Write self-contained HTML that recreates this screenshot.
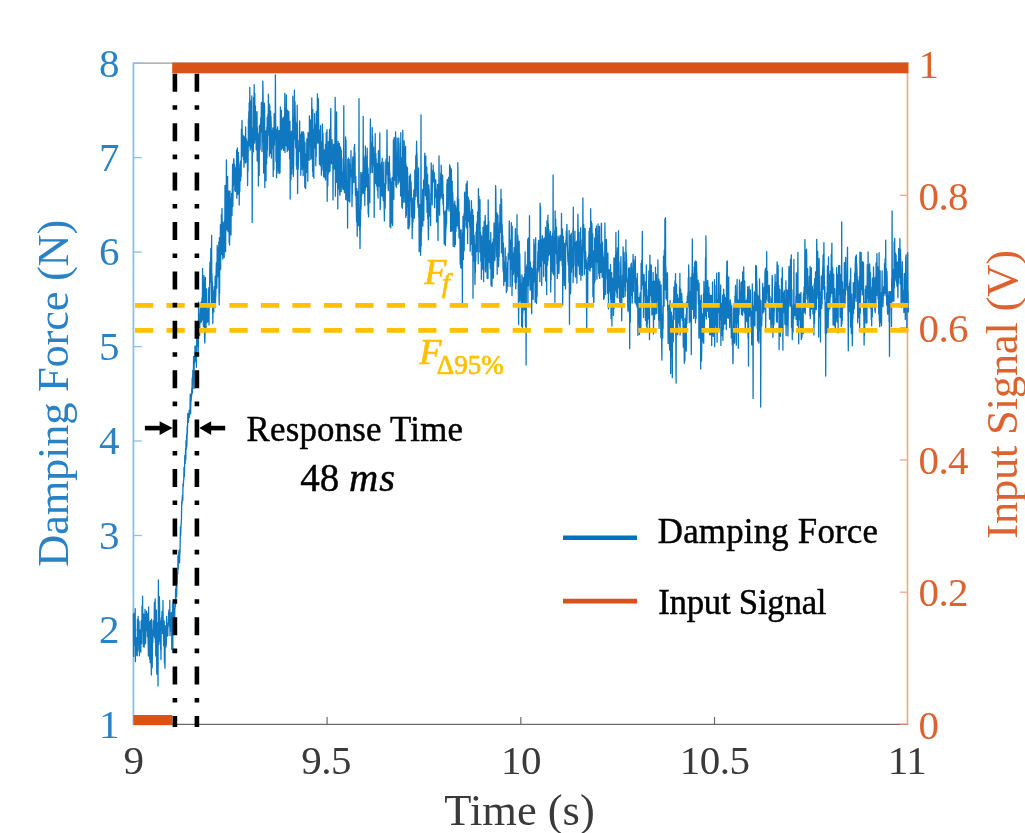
<!DOCTYPE html>
<html>
<head>
<meta charset="utf-8">
<title>Damping Force Response Time</title>
<style>
  html, body { margin: 0; padding: 0; background: #ffffff; }
  body { width: 1025px; height: 833px; overflow: hidden; }
  svg { display: block; filter: blur(0.45px); }
  text { font-family: "Liberation Serif", "Times New Roman", serif; }
  .tick { font-size: 41px; }
  .lab { font-size: 44.5px; }
  .ann { font-size: 34.8px; }
  .blue { fill: #2a82c4; }
  .org { fill: #dc6330; }
  .gray { fill: #3a3a3a; }
  .yel { fill: #ffc000; stroke: #ffc000; stroke-width: 0.7px; }
  .blk { fill: #000; stroke: #000; stroke-width: 0.45px; }
</style>
</head>
<body>
<svg width="1025" height="833" viewBox="0 0 1025 833">
  <rect x="0" y="0" width="1025" height="833" fill="#ffffff"/>

  <!-- axes box -->
  <g fill="none" stroke-width="1.3">
    <line x1="133.4" y1="63.2" x2="908.3" y2="63.2" stroke="#9a9a9a"/>
    <line x1="133.4" y1="724.4" x2="908.3" y2="724.4" stroke="#6b6b6b"/>
    <line x1="133.4" y1="62.6" x2="133.4" y2="725" stroke="#8fbfe3" stroke-width="1.8"/>
    <line x1="907.5" y1="62.6" x2="907.5" y2="725" stroke="#eba88b" stroke-width="1.6"/>
  </g>
  <!-- x ticks -->
  <g stroke="#6b6b6b" stroke-width="1.2">
    <line x1="327.1" y1="717" x2="327.1" y2="724.4"/>
    <line x1="520.8" y1="717" x2="520.8" y2="724.4"/>
    <line x1="714.5" y1="717" x2="714.5" y2="724.4"/>
  </g>
  <!-- left ticks -->
  <g stroke="#8fbfe3" stroke-width="1.3">
    <line x1="133.4" y1="63.2" x2="141.8" y2="63.2"/>
    <line x1="133.4" y1="157.6" x2="141.8" y2="157.6"/>
    <line x1="133.4" y1="252.1" x2="141.8" y2="252.1"/>
    <line x1="133.4" y1="346.6" x2="141.8" y2="346.6"/>
    <line x1="133.4" y1="441" x2="141.8" y2="441"/>
    <line x1="133.4" y1="535.5" x2="141.8" y2="535.5"/>
    <line x1="133.4" y1="629.9" x2="141.8" y2="629.9"/>
  </g>
  <!-- right ticks -->
  <g stroke="#eba88b" stroke-width="1.3">
    <line x1="899.8" y1="195.4" x2="908" y2="195.4"/>
    <line x1="899.8" y1="327.7" x2="908" y2="327.7"/>
    <line x1="899.8" y1="459.9" x2="908" y2="459.9"/>
    <line x1="899.8" y1="592.2" x2="908" y2="592.2"/>
    <line x1="899.8" y1="724.4" x2="908" y2="724.4" stroke="#d98a66"/>
  </g>

  <!-- damping force curve -->
  <path fill="none" stroke="#0f78c0" stroke-width="1.3" stroke-linejoin="round" d="M133.4,614.0 133.6,656.4 133.8,636.4 134.0,613.2 134.2,618.5 134.4,617.9 134.6,636.9 134.8,630.7 135.0,645.2 135.2,608.6 135.4,661.7 135.6,638.9 135.8,651.9 136.0,640.8 136.2,637.6 136.4,650.4 136.6,655.1 136.8,640.2 137.0,642.0 137.2,655.8 137.4,619.4 137.6,622.5 137.8,650.9 138.0,634.5 138.2,616.5 138.4,632.7 138.6,637.2 138.8,626.0 139.0,621.3 139.2,643.5 139.4,655.8 139.6,637.6 139.8,630.2 140.0,646.8 140.2,651.7 140.4,636.1 140.6,646.4 140.8,652.2 141.0,631.6 141.2,620.8 141.4,636.8 141.6,633.6 141.8,643.7 142.0,606.2 142.2,614.9 142.4,610.1 142.6,596.1 142.8,623.7 143.0,630.8 143.2,613.6 143.4,646.5 143.6,640.2 143.8,639.0 144.0,637.9 144.2,647.0 144.4,614.4 144.6,643.7 144.8,644.4 145.0,609.5 145.2,640.4 145.4,630.5 145.6,643.1 145.8,623.1 146.0,627.1 146.2,630.3 146.4,611.1 146.6,630.7 146.8,619.3 147.0,628.4 147.2,613.1 147.4,636.7 147.6,629.2 147.8,619.5 148.0,633.7 148.2,645.8 148.4,655.9 148.6,606.9 148.8,645.6 149.0,640.5 149.2,635.5 149.4,624.0 149.6,659.0 149.8,621.9 150.0,650.1 150.2,662.7 150.4,620.6 150.6,640.0 150.8,625.1 151.0,648.3 151.2,667.2 151.4,674.9 151.6,619.4 151.8,636.8 152.0,655.5 152.2,667.7 152.4,649.1 152.6,630.1 152.8,642.6 153.0,635.5 153.2,630.4 153.4,621.0 153.6,636.0 153.8,632.7 154.0,623.7 154.2,619.3 154.4,602.3 154.6,613.0 154.8,638.0 155.0,616.3 155.2,598.9 155.4,642.3 155.6,631.5 155.8,656.1 156.0,628.0 156.2,622.5 156.4,610.2 156.6,653.5 156.8,674.1 157.0,623.8 157.2,626.1 157.4,643.7 157.6,622.7 157.8,630.2 158.0,686.0 158.2,635.2 158.4,580.0 158.6,631.8 158.8,644.3 159.0,623.2 159.2,633.4 159.4,596.6 159.6,605.9 159.8,641.1 160.0,620.5 160.2,638.7 160.4,637.8 160.6,649.8 160.8,642.0 161.0,659.5 161.2,626.3 161.4,617.7 161.6,617.2 161.8,621.0 162.0,611.3 162.2,621.2 162.4,627.8 162.6,633.5 162.8,623.9 163.0,600.4 163.2,629.1 163.4,633.0 163.6,645.7 163.8,639.3 164.0,621.1 164.2,621.0 164.4,663.0 164.6,645.2 164.8,662.5 165.0,668.2 165.2,625.7 165.4,644.8 165.6,645.8 165.8,647.0 166.0,646.7 166.2,641.7 166.4,644.0 166.6,616.5 166.8,634.8 167.0,623.9 167.2,634.9 167.4,623.3 167.6,636.0 167.8,635.6 168.0,626.3 168.2,624.9 168.4,621.3 168.6,612.1 168.8,613.2 169.0,609.8 169.2,623.9 169.4,618.2 169.6,627.0 169.8,600.5 170.0,635.7 170.2,613.5 170.4,616.1 170.6,624.9 170.8,619.2 171.0,631.1 171.2,618.6 171.4,612.5 171.6,617.5 171.8,649.4 172.0,631.6 172.2,612.4 172.4,628.4 172.6,604.3 172.8,652.3 173.0,602.0 173.2,631.7 173.4,631.1 173.6,599.6 173.8,624.7 174.0,633.0 174.2,630.4 174.4,617.4 174.6,624.1 174.8,609.6 175.0,608.3 175.2,603.5 175.4,606.3 175.6,588.8 175.8,602.3 176.0,591.7 176.2,585.8 176.4,591.7 176.6,596.9 176.8,589.4 177.0,577.9 177.2,583.3 177.4,573.7 177.6,573.8 177.8,573.3 178.0,555.7 178.2,569.2 178.4,559.6 178.6,559.4 178.8,552.8 179.0,550.5 179.2,551.8 179.4,560.5 179.6,562.9 179.8,549.4 180.0,553.2 180.2,541.5 180.4,526.9 180.6,535.6 180.8,533.3 181.0,524.0 181.2,524.1 181.4,521.5 181.6,508.9 181.8,500.8 182.0,504.1 182.2,500.1 182.4,495.4 182.6,499.7 182.8,500.4 183.0,483.7 183.2,486.8 183.4,484.6 183.6,480.1 183.8,479.5 184.0,467.2 184.2,471.4 184.4,476.4 184.6,466.5 184.8,455.4 185.0,461.4 185.2,463.6 185.4,456.5 185.6,448.5 185.8,459.4 186.0,440.7 186.2,449.2 186.4,444.1 186.6,434.7 186.8,446.8 187.0,438.5 187.2,426.0 187.4,433.7 187.6,424.7 187.8,413.3 188.0,418.2 188.2,421.9 188.4,422.4 188.6,417.9 188.8,415.3 189.0,416.2 189.2,410.1 189.4,417.4 189.6,410.2 189.8,410.6 190.0,411.3 190.2,394.1 190.4,401.2 190.6,413.8 190.8,404.6 191.0,398.5 191.2,400.5 191.4,393.7 191.6,396.3 191.8,388.1 192.0,391.8 192.2,378.1 192.4,393.2 192.6,379.4 192.8,370.5 193.0,376.1 193.2,372.4 193.4,373.4 193.6,356.5 193.8,370.9 194.0,388.6 194.2,356.7 194.4,364.0 194.6,358.4 194.8,359.9 195.0,345.9 195.2,348.3 195.4,357.0 195.6,352.8 195.8,361.7 196.0,346.2 196.2,350.1 196.4,367.3 196.6,341.1 196.8,338.3 197.0,342.3 197.2,340.7 197.4,346.0 197.6,338.6 197.8,329.7 198.0,335.4 198.2,354.3 198.4,340.3 198.6,302.2 198.8,324.1 199.0,314.1 199.2,325.5 199.4,315.0 199.6,335.6 199.8,324.5 200.0,322.2 200.2,312.9 200.4,308.3 200.6,311.9 200.8,322.3 201.0,312.3 201.2,301.8 201.4,322.0 201.6,309.9 201.8,307.8 202.0,297.9 202.2,299.9 202.4,297.7 202.6,268.4 202.8,320.2 203.0,315.7 203.2,305.8 203.4,326.7 203.6,318.8 203.8,318.4 204.0,275.7 204.2,309.9 204.4,320.5 204.6,339.0 204.8,342.9 205.0,337.6 205.2,295.7 205.4,277.5 205.6,325.0 205.8,315.7 206.0,332.0 206.2,313.1 206.4,319.0 206.6,288.9 206.8,322.3 207.0,307.4 207.2,321.0 207.4,322.0 207.6,311.1 207.8,317.5 208.0,310.3 208.2,321.7 208.4,313.7 208.6,293.1 208.8,287.7 209.0,324.9 209.2,288.2 209.4,303.0 209.6,288.4 209.8,267.7 210.0,262.0 210.2,275.3 210.4,276.9 210.6,282.0 210.8,248.5 211.0,261.5 211.2,270.6 211.4,303.4 211.6,235.3 211.8,287.9 212.0,274.0 212.2,294.4 212.4,281.8 212.6,300.6 212.8,323.6 213.0,304.9 213.2,308.3 213.4,309.4 213.6,290.7 213.8,312.1 214.0,297.0 214.2,286.6 214.4,297.6 214.6,291.5 214.8,304.8 215.0,287.0 215.2,276.1 215.4,307.6 215.6,295.1 215.8,296.8 216.0,282.9 216.2,268.6 216.4,262.7 216.6,265.8 216.8,288.0 217.0,274.1 217.2,245.5 217.4,272.4 217.6,248.0 217.8,276.6 218.0,252.6 218.2,251.5 218.4,275.6 218.6,271.5 218.8,241.9 219.0,295.8 219.2,304.9 219.4,237.7 219.6,293.6 219.8,247.5 220.0,248.3 220.2,250.2 220.4,224.7 220.6,269.7 220.8,252.3 221.0,229.8 221.2,237.1 221.4,214.4 221.6,233.4 221.8,254.3 222.0,208.5 222.2,229.9 222.4,238.6 222.6,253.6 222.8,259.0 223.0,228.2 223.2,222.1 223.4,242.7 223.6,227.1 223.8,226.0 224.0,248.8 224.2,257.6 224.4,230.3 224.6,220.7 224.8,231.0 225.0,185.5 225.2,216.2 225.4,194.5 225.6,251.8 225.8,222.7 226.0,209.5 226.2,202.0 226.4,159.8 226.6,215.3 226.8,229.8 227.0,188.3 227.2,213.0 227.4,214.8 227.6,176.3 227.8,220.7 228.0,231.5 228.2,215.3 228.4,211.3 228.6,229.7 228.8,191.0 229.0,223.2 229.2,242.7 229.4,204.8 229.6,245.0 229.8,220.8 230.0,191.2 230.2,223.5 230.4,207.8 230.6,227.5 230.8,198.5 231.0,235.1 231.2,199.9 231.4,214.9 231.6,193.3 231.8,193.5 232.0,215.5 232.2,195.1 232.4,182.6 232.6,164.2 232.8,206.5 233.0,197.2 233.2,177.6 233.4,185.7 233.6,160.4 233.8,158.6 234.0,161.8 234.2,181.8 234.4,182.3 234.6,164.6 234.8,190.5 235.0,190.4 235.2,177.4 235.4,191.7 235.6,167.8 235.8,169.6 236.0,179.9 236.2,171.7 236.4,185.5 236.6,150.2 236.8,198.2 237.0,159.1 237.2,169.5 237.4,147.8 237.6,181.3 237.8,194.3 238.0,192.5 238.2,191.1 238.4,152.3 238.6,168.4 238.8,175.0 239.0,169.1 239.2,205.1 239.4,186.6 239.6,183.2 239.8,191.4 240.0,164.1 240.2,164.3 240.4,161.2 240.6,180.7 240.8,172.8 241.0,172.5 241.2,176.4 241.4,129.2 241.6,138.6 241.8,148.9 242.0,120.4 242.2,132.0 242.4,156.0 242.6,156.0 242.8,155.5 243.0,138.6 243.2,135.7 243.4,159.5 243.6,135.8 243.8,148.4 244.0,167.2 244.2,139.9 244.4,136.9 244.6,149.2 244.8,160.8 245.0,159.2 245.2,155.7 245.4,163.0 245.6,127.0 245.8,141.9 246.0,162.3 246.2,144.6 246.4,138.9 246.6,141.6 246.8,146.3 247.0,158.5 247.2,141.7 247.4,162.1 247.6,185.5 247.8,150.2 248.0,171.3 248.2,149.0 248.4,119.0 248.6,128.7 248.8,111.7 249.0,138.5 249.2,102.7 249.4,145.9 249.6,132.1 249.8,87.4 250.0,135.8 250.2,150.3 250.4,111.7 250.6,145.9 250.8,100.8 251.0,139.6 251.2,109.3 251.4,148.3 251.6,109.7 251.8,95.8 252.0,149.6 252.2,222.4 252.4,130.4 252.6,153.3 252.8,138.2 253.0,127.8 253.2,139.7 253.4,151.8 253.6,97.3 253.8,123.8 254.0,117.0 254.2,84.6 254.4,137.2 254.6,143.0 254.8,93.5 255.0,139.5 255.2,108.4 255.4,106.0 255.6,138.2 255.8,120.3 256.0,125.8 256.2,149.8 256.4,149.0 256.6,147.4 256.8,112.1 257.0,111.6 257.2,161.1 257.4,127.7 257.6,149.7 257.8,132.6 258.0,152.5 258.2,134.3 258.4,186.0 258.6,139.5 258.8,155.5 259.0,153.0 259.2,175.4 259.4,125.6 259.6,146.6 259.8,140.8 260.0,149.7 260.2,144.4 260.4,123.4 260.6,132.3 260.8,117.7 261.0,128.1 261.2,114.6 261.4,102.3 261.6,111.6 261.8,118.3 262.0,151.5 262.2,104.4 262.4,119.7 262.6,141.6 262.8,81.1 263.0,89.8 263.2,103.0 263.4,125.9 263.6,173.1 263.8,140.9 264.0,159.8 264.2,138.4 264.4,103.1 264.6,108.4 264.8,187.6 265.0,157.0 265.2,133.3 265.4,176.7 265.6,130.9 265.8,176.8 266.0,180.8 266.2,141.4 266.4,132.8 266.6,163.9 266.8,127.3 267.0,157.5 267.2,117.4 267.4,150.1 267.6,134.2 267.8,123.1 268.0,113.9 268.2,132.2 268.4,94.2 268.6,121.6 268.8,118.7 269.0,135.7 269.2,104.0 269.4,156.0 269.6,119.9 269.8,105.3 270.0,148.7 270.2,153.3 270.4,122.4 270.6,111.1 270.8,127.6 271.0,116.5 271.2,124.4 271.4,158.1 271.6,137.9 271.8,133.6 272.0,137.5 272.2,130.4 272.4,147.6 272.6,148.6 272.8,127.9 273.0,136.2 273.2,176.5 273.4,141.4 273.6,130.2 273.8,169.8 274.0,133.7 274.2,113.6 274.4,145.0 274.6,119.0 274.8,126.1 275.0,139.6 275.2,132.9 275.4,75.0 275.6,117.6 275.8,129.2 276.0,161.4 276.2,129.1 276.4,131.7 276.6,177.8 276.8,135.3 277.0,173.5 277.2,171.8 277.4,147.3 277.6,126.8 277.8,160.8 278.0,164.7 278.2,167.0 278.4,150.4 278.6,169.8 278.8,172.2 279.0,130.3 279.2,173.7 279.4,150.9 279.6,136.2 279.8,136.8 280.0,172.8 280.2,156.4 280.4,106.8 280.6,138.2 280.8,134.1 281.0,133.3 281.2,126.7 281.4,110.3 281.6,149.8 281.8,118.5 282.0,127.5 282.2,122.7 282.4,122.1 282.6,147.9 282.8,141.2 283.0,121.6 283.2,118.4 283.4,117.2 283.6,150.4 283.8,134.2 284.0,133.4 284.2,122.5 284.4,123.1 284.6,130.6 284.8,93.5 285.0,152.4 285.2,108.6 285.4,112.1 285.6,145.5 285.8,125.1 286.0,121.0 286.2,110.0 286.4,95.0 286.6,127.4 286.8,146.4 287.0,110.7 287.2,151.7 287.4,110.2 287.6,119.3 287.8,143.3 288.0,136.7 288.2,150.1 288.4,127.0 288.6,124.4 288.8,111.2 289.0,124.5 289.2,129.7 289.4,125.4 289.6,158.4 289.8,143.4 290.0,121.3 290.2,199.0 290.4,141.2 290.6,135.1 290.8,180.0 291.0,178.4 291.2,137.4 291.4,131.2 291.6,139.8 291.8,174.0 292.0,147.4 292.2,136.9 292.4,149.9 292.6,168.5 292.8,96.1 293.0,136.2 293.2,116.1 293.4,176.5 293.6,167.3 293.8,150.4 294.0,129.5 294.2,139.7 294.4,90.1 294.6,130.4 294.8,101.1 295.0,102.3 295.2,115.3 295.4,125.0 295.6,143.4 295.8,147.9 296.0,147.8 296.2,123.2 296.4,166.0 296.6,143.3 296.8,169.2 297.0,134.1 297.2,105.1 297.4,145.9 297.6,193.5 297.8,164.0 298.0,151.6 298.2,169.3 298.4,161.3 298.6,158.7 298.8,140.4 299.0,150.3 299.2,151.0 299.4,132.9 299.6,120.9 299.8,139.5 300.0,151.5 300.2,144.1 300.4,140.9 300.6,139.2 300.8,175.3 301.0,134.5 301.2,149.1 301.4,165.1 301.6,131.8 301.8,138.2 302.0,155.1 302.2,169.6 302.4,148.7 302.6,153.7 302.8,152.0 303.0,131.6 303.2,175.7 303.4,154.8 303.6,132.2 303.8,161.1 304.0,134.5 304.2,148.4 304.4,167.6 304.6,152.6 304.8,187.3 305.0,142.3 305.2,170.6 305.4,173.6 305.6,188.5 305.8,175.8 306.0,162.4 306.2,156.8 306.4,153.6 306.6,172.4 306.8,138.9 307.0,157.8 307.2,144.0 307.4,148.4 307.6,138.8 307.8,181.2 308.0,132.6 308.2,149.4 308.4,150.6 308.6,155.5 308.8,153.3 309.0,152.3 309.2,160.3 309.4,115.8 309.6,141.4 309.8,119.5 310.0,145.6 310.2,119.7 310.4,122.9 310.6,136.7 310.8,159.3 311.0,144.1 311.2,139.9 311.4,158.1 311.6,117.6 311.8,97.9 312.0,127.4 312.2,130.5 312.4,156.8 312.6,171.1 312.8,109.3 313.0,176.4 313.2,160.9 313.4,148.4 313.6,140.8 313.8,178.2 314.0,138.1 314.2,129.0 314.4,140.2 314.6,113.7 314.8,147.4 315.0,137.2 315.2,146.7 315.4,148.7 315.6,124.5 315.8,165.8 316.0,124.5 316.2,156.4 316.4,111.3 316.6,143.2 316.8,120.6 317.0,135.1 317.2,121.5 317.4,93.9 317.6,112.2 317.8,131.8 318.0,143.2 318.2,107.4 318.4,98.7 318.6,122.0 318.8,134.5 319.0,130.7 319.2,129.7 319.4,161.0 319.6,164.6 319.8,162.3 320.0,134.1 320.2,152.9 320.4,148.3 320.6,125.6 320.8,166.1 321.0,152.2 321.2,141.7 321.4,175.2 321.6,163.1 321.8,165.2 322.0,170.3 322.2,159.5 322.4,124.0 322.6,138.9 322.8,163.0 323.0,133.1 323.2,149.1 323.4,156.4 323.6,176.8 323.8,175.1 324.0,169.0 324.2,150.0 324.4,167.9 324.6,162.4 324.8,150.7 325.0,178.1 325.2,165.3 325.4,144.3 325.6,179.9 325.8,154.1 326.0,170.5 326.2,132.9 326.4,159.3 326.6,143.4 326.8,144.5 327.0,129.6 327.2,201.3 327.4,162.5 327.6,170.7 327.8,185.9 328.0,164.1 328.2,174.6 328.4,141.6 328.6,168.3 328.8,157.1 329.0,172.3 329.2,166.1 329.4,138.1 329.6,129.3 329.8,141.9 330.0,171.2 330.2,163.0 330.4,161.8 330.6,119.9 330.8,108.4 331.0,144.7 331.2,150.0 331.4,146.5 331.6,163.9 331.8,155.5 332.0,139.7 332.2,144.0 332.4,161.4 332.6,158.7 332.8,157.0 333.0,199.9 333.2,157.3 333.4,164.7 333.6,144.4 333.8,154.3 334.0,169.1 334.2,168.1 334.4,154.3 334.6,162.1 334.8,156.8 335.0,123.0 335.2,97.5 335.4,196.2 335.6,169.4 335.8,153.4 336.0,125.6 336.2,134.8 336.4,182.3 336.6,111.8 336.8,156.0 337.0,177.7 337.2,166.5 337.4,178.2 337.6,163.7 337.8,208.9 338.0,147.1 338.2,141.3 338.4,169.4 338.6,188.6 338.8,162.7 339.0,183.1 339.2,154.8 339.4,143.6 339.6,190.4 339.8,195.2 340.0,194.7 340.2,159.8 340.4,146.9 340.6,147.6 340.8,165.6 341.0,181.7 341.2,191.6 341.4,150.3 341.6,178.6 341.8,176.7 342.0,178.2 342.2,175.3 342.4,172.5 342.6,188.1 342.8,181.7 343.0,189.5 343.2,158.3 343.4,189.4 343.6,179.2 343.8,105.7 344.0,187.4 344.2,172.4 344.4,192.8 344.6,173.2 344.8,173.1 345.0,177.5 345.2,171.5 345.4,161.5 345.6,137.0 345.8,199.7 346.0,140.1 346.2,162.0 346.4,182.2 346.6,181.2 346.8,187.6 347.0,191.9 347.2,200.4 347.4,182.2 347.6,228.0 347.8,159.4 348.0,181.6 348.2,170.6 348.4,157.8 348.6,181.7 348.8,200.8 349.0,160.8 349.2,159.3 349.4,183.1 349.6,177.9 349.8,202.2 350.0,187.0 350.2,172.9 350.4,163.8 350.6,174.5 350.8,169.3 351.0,150.6 351.2,176.8 351.4,174.7 351.6,173.8 351.8,170.0 352.0,206.7 352.2,191.0 352.4,194.1 352.6,165.3 352.8,156.8 353.0,167.1 353.2,174.7 353.4,162.5 353.6,163.3 353.8,182.5 354.0,169.5 354.2,147.2 354.4,157.9 354.6,144.5 354.8,173.4 355.0,152.9 355.2,175.3 355.4,195.5 355.6,188.6 355.8,176.5 356.0,187.2 356.2,203.8 356.4,212.8 356.6,221.8 356.8,208.0 357.0,188.7 357.2,236.3 357.4,217.5 357.6,219.4 357.8,216.5 358.0,191.6 358.2,203.4 358.4,213.9 358.6,225.7 358.8,208.2 359.0,98.7 359.2,203.7 359.4,215.0 359.6,230.1 359.8,218.3 360.0,248.4 360.2,228.2 360.4,225.3 360.6,215.9 360.8,172.3 361.0,208.9 361.2,202.0 361.4,179.8 361.6,195.9 361.8,191.0 362.0,174.5 362.2,180.0 362.4,172.6 362.6,191.6 362.8,176.8 363.0,193.3 363.2,116.3 363.4,179.7 363.6,155.1 363.8,176.6 364.0,193.3 364.2,182.2 364.4,178.2 364.6,180.5 364.8,205.4 365.0,157.3 365.2,190.3 365.4,146.2 365.6,165.3 365.8,176.4 366.0,158.6 366.2,177.4 366.4,187.0 366.6,156.4 366.8,177.7 367.0,173.9 367.2,148.2 367.4,178.3 367.6,166.6 367.8,205.0 368.0,168.3 368.2,213.8 368.4,174.3 368.6,216.9 368.8,191.9 369.0,189.0 369.2,192.6 369.4,191.6 369.6,197.9 369.8,202.6 370.0,165.1 370.2,146.8 370.4,119.0 370.6,155.7 370.8,172.7 371.0,163.6 371.2,157.8 371.4,149.2 371.6,142.6 371.8,149.9 372.0,163.5 372.2,127.6 372.4,172.5 372.6,135.8 372.8,160.2 373.0,153.8 373.2,159.3 373.4,149.0 373.6,147.2 373.8,166.4 374.0,153.6 374.2,217.4 374.4,168.1 374.6,153.5 374.8,167.6 375.0,158.1 375.2,133.6 375.4,173.6 375.6,183.5 375.8,153.4 376.0,180.0 376.2,158.7 376.4,179.0 376.6,185.3 376.8,186.0 377.0,184.2 377.2,163.3 377.4,190.2 377.6,166.8 377.8,181.0 378.0,198.1 378.2,167.6 378.4,150.7 378.6,184.2 378.8,152.5 379.0,155.6 379.2,151.5 379.4,186.5 379.6,169.9 379.8,132.9 380.0,185.5 380.2,209.5 380.4,204.0 380.6,164.3 380.8,176.1 381.0,186.4 381.2,194.9 381.4,180.5 381.6,162.5 381.8,196.1 382.0,193.1 382.2,158.2 382.4,176.7 382.6,189.5 382.8,186.1 383.0,195.4 383.2,200.5 383.4,196.5 383.6,183.8 383.8,162.1 384.0,196.5 384.2,209.9 384.4,220.9 384.6,185.0 384.8,184.0 385.0,208.4 385.2,206.0 385.4,183.6 385.6,188.2 385.8,161.2 386.0,184.0 386.2,158.8 386.4,168.8 386.6,167.7 386.8,160.1 387.0,129.9 387.2,153.4 387.4,174.8 387.6,169.4 387.8,165.4 388.0,182.0 388.2,188.4 388.4,190.7 388.6,162.7 388.8,178.6 389.0,173.6 389.2,166.4 389.4,156.3 389.6,182.9 389.8,171.8 390.0,226.8 390.2,188.9 390.4,187.8 390.6,178.9 390.8,227.8 391.0,182.1 391.2,197.8 391.4,189.2 391.6,202.0 391.8,203.0 392.0,223.1 392.2,177.4 392.4,200.0 392.6,225.5 392.8,186.3 393.0,189.1 393.2,173.9 393.4,140.0 393.6,181.2 393.8,199.3 394.0,166.8 394.2,137.5 394.4,175.5 394.6,166.3 394.8,180.0 395.0,177.8 395.2,156.6 395.4,167.3 395.6,131.8 395.8,185.2 396.0,169.8 396.2,187.0 396.4,187.2 396.6,164.8 396.8,168.2 397.0,157.4 397.2,138.2 397.4,171.9 397.6,175.7 397.8,153.1 398.0,184.2 398.2,170.7 398.4,175.2 398.6,154.1 398.8,138.0 399.0,182.1 399.2,180.4 399.4,169.0 399.6,163.3 399.8,167.1 400.0,171.5 400.2,166.6 400.4,143.2 400.6,195.9 400.8,132.7 401.0,182.0 401.2,182.1 401.4,191.3 401.6,157.8 401.8,207.0 402.0,197.5 402.2,199.9 402.4,208.3 402.6,157.9 402.8,130.2 403.0,188.2 403.2,202.4 403.4,196.4 403.6,165.0 403.8,171.6 404.0,178.1 404.2,140.8 404.4,160.5 404.6,162.0 404.8,202.0 405.0,163.4 405.2,201.0 405.4,174.0 405.6,146.4 405.8,217.6 406.0,164.2 406.2,193.8 406.4,215.2 406.6,177.0 406.8,166.7 407.0,206.8 407.2,190.9 407.4,167.6 407.6,172.0 407.8,185.5 408.0,228.5 408.2,191.0 408.4,209.0 408.6,228.9 408.8,223.9 409.0,227.6 409.2,225.0 409.4,176.1 409.6,225.1 409.8,213.9 410.0,200.9 410.2,184.1 410.4,174.2 410.6,181.9 410.8,200.8 411.0,181.4 411.2,188.0 411.4,192.3 411.6,217.0 411.8,203.8 412.0,210.6 412.2,238.6 412.4,212.0 412.6,228.1 412.8,198.2 413.0,222.3 413.2,217.4 413.4,216.3 413.6,202.0 413.8,189.8 414.0,196.0 414.2,195.1 414.4,218.0 414.6,211.4 414.8,170.4 415.0,199.5 415.2,169.6 415.4,193.3 415.6,174.6 415.8,155.7 416.0,196.3 416.2,185.8 416.4,154.5 416.6,141.2 416.8,164.0 417.0,153.3 417.2,168.1 417.4,185.9 417.6,202.8 417.8,172.4 418.0,206.5 418.2,207.6 418.4,185.2 418.6,167.9 418.8,216.6 419.0,217.6 419.2,251.7 419.4,239.6 419.6,231.6 419.8,250.1 420.0,204.5 420.2,228.4 420.4,220.8 420.6,255.3 420.8,233.3 421.0,114.8 421.2,245.8 421.4,203.9 421.6,232.1 421.8,208.0 422.0,218.6 422.2,223.1 422.4,213.2 422.6,189.5 422.8,226.1 423.0,205.7 423.2,196.3 423.4,205.3 423.6,180.1 423.8,220.4 424.0,188.2 424.2,187.8 424.4,184.4 424.6,159.6 424.8,153.2 425.0,175.7 425.2,177.6 425.4,195.6 425.6,181.4 425.8,156.2 426.0,187.0 426.2,194.4 426.4,199.8 426.6,191.3 426.8,167.0 427.0,212.4 427.2,182.2 427.4,208.2 427.6,174.3 427.8,219.1 428.0,194.1 428.2,227.3 428.4,239.8 428.6,227.0 428.8,184.9 429.0,189.5 429.2,190.5 429.4,216.0 429.6,208.8 429.8,204.1 430.0,205.3 430.2,208.0 430.4,206.2 430.6,225.5 430.8,193.2 431.0,198.0 431.2,163.0 431.4,173.6 431.6,182.6 431.8,171.0 432.0,193.9 432.2,204.9 432.4,177.0 432.6,173.2 432.8,170.4 433.0,179.3 433.2,164.9 433.4,181.5 433.6,176.5 433.8,174.9 434.0,182.5 434.2,172.3 434.4,177.5 434.6,207.7 434.8,179.3 435.0,197.2 435.2,185.9 435.4,179.8 435.6,183.8 435.8,179.9 436.0,197.3 436.2,189.1 436.4,194.2 436.6,222.1 436.8,197.7 437.0,217.7 437.2,201.6 437.4,210.0 437.6,184.4 437.8,198.0 438.0,240.5 438.2,208.2 438.4,211.4 438.6,198.9 438.8,211.3 439.0,155.9 439.2,182.5 439.4,206.1 439.6,215.2 439.8,194.3 440.0,199.8 440.2,195.9 440.4,197.5 440.6,178.8 440.8,173.0 441.0,195.8 441.2,165.1 441.4,177.0 441.6,182.9 441.8,176.3 442.0,198.4 442.2,185.3 442.4,191.1 442.6,174.9 442.8,180.8 443.0,204.4 443.2,204.5 443.4,194.5 443.6,212.9 443.8,213.7 444.0,216.7 444.2,244.0 444.4,212.3 444.6,230.5 444.8,231.4 445.0,224.0 445.2,211.0 445.4,245.4 445.6,235.9 445.8,230.7 446.0,227.8 446.2,225.0 446.4,207.0 446.6,224.0 446.8,184.0 447.0,210.6 447.2,179.7 447.4,195.4 447.6,208.6 447.8,185.4 448.0,179.3 448.2,195.0 448.4,180.6 448.6,177.3 448.8,177.5 449.0,211.0 449.2,195.0 449.4,192.5 449.6,164.9 449.8,197.8 450.0,165.8 450.2,199.4 450.4,176.5 450.6,231.4 450.8,168.1 451.0,219.6 451.2,213.4 451.4,169.2 451.6,199.0 451.8,231.0 452.0,227.8 452.2,181.2 452.4,203.7 452.6,192.0 452.8,194.7 453.0,201.0 453.2,246.6 453.4,218.1 453.6,213.3 453.8,211.3 454.0,229.6 454.2,230.0 454.4,203.2 454.6,246.7 454.8,201.1 455.0,212.8 455.2,224.8 455.4,244.5 455.6,205.7 455.8,214.2 456.0,231.2 456.2,218.6 456.4,226.1 456.6,223.7 456.8,208.0 457.0,211.1 457.2,214.2 457.4,197.1 457.6,225.4 457.8,162.7 458.0,183.5 458.2,228.0 458.4,214.1 458.6,199.2 458.8,220.0 459.0,237.8 459.2,211.8 459.4,238.6 459.6,227.6 459.8,233.7 460.0,239.1 460.2,264.2 460.4,230.4 460.6,246.2 460.8,267.8 461.0,236.2 461.2,229.8 461.4,268.1 461.6,257.9 461.8,255.4 462.0,260.1 462.2,238.7 462.4,304.3 462.6,232.8 462.8,238.8 463.0,216.4 463.2,229.4 463.4,259.4 463.6,229.4 463.8,236.1 464.0,213.7 464.2,250.8 464.4,218.6 464.6,192.1 464.8,226.4 465.0,205.3 465.2,220.2 465.4,212.3 465.6,214.2 465.8,212.2 466.0,193.6 466.2,183.9 466.4,227.8 466.6,209.4 466.8,218.6 467.0,207.4 467.2,181.2 467.4,195.5 467.6,243.6 467.8,207.1 468.0,207.4 468.2,197.2 468.4,213.8 468.6,217.1 468.8,219.1 469.0,221.5 469.2,200.0 469.4,212.8 469.6,223.4 469.8,227.3 470.0,218.4 470.2,251.2 470.4,225.2 470.6,225.8 470.8,211.5 471.0,244.2 471.2,210.0 471.4,200.7 471.6,213.4 471.8,241.8 472.0,211.8 472.2,255.1 472.4,234.6 472.6,209.6 472.8,232.4 473.0,298.2 473.2,223.4 473.4,215.5 473.6,246.9 473.8,261.2 474.0,257.7 474.2,235.5 474.4,246.4 474.6,250.9 474.8,267.8 475.0,284.5 475.2,246.1 475.4,272.4 475.6,244.5 475.8,260.7 476.0,231.8 476.2,232.8 476.4,250.4 476.6,224.3 476.8,251.5 477.0,222.4 477.2,227.7 477.4,220.6 477.6,212.1 477.8,217.5 478.0,230.8 478.2,263.8 478.4,188.6 478.6,214.3 478.8,206.2 479.0,196.1 479.2,219.5 479.4,203.3 479.6,222.2 479.8,252.2 480.0,199.6 480.2,244.6 480.4,252.6 480.6,232.2 480.8,261.2 481.0,259.4 481.2,249.5 481.4,279.3 481.6,235.9 481.8,269.7 482.0,254.7 482.2,240.0 482.4,254.1 482.6,250.2 482.8,268.8 483.0,227.2 483.2,248.6 483.4,244.9 483.6,281.5 483.8,233.0 484.0,270.7 484.2,221.3 484.4,256.9 484.6,247.0 484.8,255.8 485.0,237.2 485.2,215.4 485.4,222.2 485.6,271.9 485.8,252.3 486.0,232.3 486.2,262.2 486.4,233.1 486.6,234.5 486.8,225.3 487.0,266.2 487.2,278.5 487.4,225.1 487.6,246.4 487.8,258.0 488.0,278.4 488.2,199.9 488.4,245.6 488.6,256.2 488.8,221.1 489.0,254.2 489.2,250.8 489.4,262.5 489.6,241.0 489.8,260.7 490.0,244.5 490.2,268.7 490.4,261.8 490.6,252.1 490.8,232.4 491.0,285.3 491.2,274.6 491.4,270.5 491.6,244.7 491.8,251.1 492.0,286.6 492.2,271.1 492.4,242.7 492.6,257.8 492.8,258.8 493.0,252.3 493.2,239.1 493.4,278.0 493.6,264.6 493.8,248.4 494.0,222.9 494.2,238.0 494.4,247.2 494.6,260.5 494.8,236.8 495.0,259.8 495.2,240.7 495.4,224.0 495.6,185.7 495.8,190.0 496.0,206.9 496.2,229.7 496.4,238.9 496.6,256.5 496.8,232.2 497.0,213.0 497.2,274.3 497.4,240.4 497.6,232.0 497.8,233.1 498.0,215.2 498.2,250.6 498.4,246.3 498.6,266.7 498.8,257.2 499.0,251.4 499.2,256.6 499.4,227.6 499.6,222.5 499.8,227.4 500.0,204.6 500.2,221.4 500.4,215.8 500.6,232.4 500.8,220.5 501.0,189.4 501.2,225.5 501.4,252.9 501.6,198.8 501.8,223.2 502.0,242.1 502.2,224.7 502.4,242.0 502.6,256.5 502.8,235.7 503.0,267.2 503.2,271.7 503.4,243.0 503.6,265.6 503.8,285.5 504.0,263.2 504.2,274.3 504.4,277.8 504.6,261.9 504.8,281.3 505.0,271.9 505.2,247.8 505.4,275.5 505.6,280.9 505.8,280.2 506.0,256.6 506.2,275.9 506.4,292.6 506.6,272.0 506.8,288.7 507.0,290.7 507.2,268.5 507.4,280.6 507.6,262.2 507.8,286.4 508.0,264.0 508.2,253.3 508.4,259.7 508.6,254.6 508.8,259.0 509.0,256.1 509.2,225.6 509.4,220.9 509.6,248.6 509.8,249.3 510.0,242.7 510.2,286.5 510.4,259.8 510.6,240.1 510.8,256.8 511.0,269.3 511.2,255.2 511.4,222.7 511.6,257.0 511.8,257.3 512.0,295.5 512.2,226.4 512.4,286.0 512.6,256.1 512.8,274.9 513.0,253.5 513.2,260.0 513.4,274.3 513.6,255.1 513.8,271.8 514.0,252.1 514.2,247.5 514.4,252.0 514.6,249.0 514.8,256.4 515.0,282.2 515.2,237.3 515.4,228.6 515.6,257.9 515.8,288.8 516.0,277.0 516.2,283.0 516.4,281.8 516.6,246.6 516.8,264.1 517.0,214.7 517.2,252.9 517.4,276.6 517.6,241.2 517.8,235.4 518.0,250.5 518.2,279.3 518.4,297.7 518.6,324.6 518.8,304.2 519.0,254.2 519.2,241.2 519.4,284.8 519.6,301.0 519.8,253.6 520.0,274.0 520.2,275.9 520.4,285.9 520.6,283.2 520.9,296.7 521.1,306.2 521.3,289.7 521.5,303.5 521.7,326.6 521.9,274.8 522.1,276.0 522.3,303.6 522.5,327.6 522.7,297.6 522.9,312.8 523.1,286.3 523.3,305.7 523.5,277.6 523.7,299.4 523.9,294.4 524.1,293.9 524.3,309.8 524.5,303.8 524.7,273.9 524.9,299.4 525.1,251.9 525.3,297.3 525.5,326.1 525.7,285.5 525.9,285.7 526.1,365.0 526.3,289.3 526.5,266.3 526.7,285.7 526.9,267.8 527.1,264.4 527.3,272.3 527.5,268.3 527.7,239.4 527.9,304.8 528.1,270.3 528.3,237.8 528.5,285.8 528.7,266.2 528.9,270.9 529.1,278.4 529.3,250.5 529.5,215.7 529.7,266.8 529.9,274.3 530.1,290.1 530.3,262.0 530.5,272.8 530.7,286.4 530.9,277.1 531.1,279.9 531.3,290.0 531.5,267.6 531.7,313.7 531.9,269.0 532.1,284.0 532.3,276.9 532.5,269.0 532.7,288.0 532.9,293.0 533.1,299.4 533.3,281.6 533.5,261.6 533.7,282.3 533.9,239.5 534.1,266.6 534.3,273.8 534.5,275.8 534.7,247.2 534.9,244.3 535.1,302.0 535.3,267.7 535.5,250.3 535.7,237.7 535.9,280.5 536.1,301.8 536.3,281.0 536.5,303.4 536.7,286.4 536.9,290.6 537.1,296.2 537.3,268.6 537.5,275.6 537.7,259.8 537.9,251.4 538.1,272.1 538.3,243.1 538.5,256.3 538.7,240.3 538.9,251.8 539.1,242.7 539.3,269.8 539.5,251.1 539.7,251.7 539.9,281.7 540.1,203.2 540.3,233.4 540.5,206.1 540.7,254.1 540.9,262.1 541.1,266.4 541.3,259.7 541.5,240.0 541.7,285.4 541.9,259.7 542.1,250.6 542.3,235.6 542.5,260.6 542.7,243.7 542.9,244.6 543.1,255.6 543.3,257.1 543.5,239.7 543.7,276.6 543.9,238.5 544.1,237.9 544.3,263.7 544.5,262.2 544.7,260.8 544.9,251.4 545.1,258.6 545.3,247.4 545.5,227.4 545.7,281.1 545.9,236.3 546.1,248.5 546.3,264.3 546.5,249.5 546.7,294.7 546.9,220.8 547.1,229.9 547.3,244.8 547.5,265.2 547.7,235.8 547.9,215.2 548.1,260.2 548.3,223.4 548.5,236.6 548.7,255.4 548.9,229.6 549.1,235.5 549.3,254.5 549.5,244.0 549.7,253.8 549.9,235.9 550.1,252.5 550.3,238.3 550.5,231.4 550.7,292.0 550.9,270.9 551.1,279.7 551.3,246.0 551.5,261.7 551.7,257.6 551.9,235.9 552.1,271.1 552.3,248.1 552.5,257.3 552.7,233.2 552.9,273.5 553.1,175.0 553.3,260.8 553.5,237.1 553.7,243.4 553.9,275.1 554.1,249.4 554.3,257.7 554.5,254.5 554.7,230.5 554.9,302.3 555.1,211.0 555.3,249.8 555.5,246.0 555.7,219.0 555.9,251.2 556.1,253.7 556.3,243.4 556.5,227.4 556.7,250.8 556.9,263.9 557.1,251.0 557.3,278.4 557.5,262.7 557.7,261.9 557.9,272.9 558.1,236.1 558.3,237.9 558.5,257.2 558.7,255.3 558.9,273.5 559.1,267.2 559.3,249.1 559.5,247.9 559.7,238.5 559.9,236.6 560.1,235.3 560.3,260.7 560.5,237.1 560.7,240.2 560.9,250.2 561.1,238.7 561.3,246.1 561.5,213.4 561.7,260.3 561.9,250.5 562.1,262.4 562.3,266.3 562.5,228.8 562.7,305.1 562.9,268.2 563.1,269.3 563.3,236.1 563.5,278.3 563.7,275.1 563.9,259.9 564.1,268.6 564.3,285.4 564.5,255.8 564.7,243.1 564.9,279.6 565.1,258.2 565.3,247.6 565.5,288.9 565.7,247.9 565.9,240.0 566.1,245.2 566.3,231.0 566.5,241.5 566.7,238.7 566.9,224.3 567.1,232.3 567.3,244.7 567.5,248.8 567.7,254.6 567.9,261.6 568.1,256.9 568.3,265.1 568.5,252.8 568.7,257.4 568.9,282.3 569.1,230.4 569.3,274.7 569.5,324.2 569.7,236.1 569.9,293.3 570.1,235.2 570.3,272.4 570.5,293.7 570.7,289.2 570.9,245.6 571.1,237.7 571.3,233.2 571.5,272.2 571.7,247.4 571.9,259.1 572.1,263.3 572.3,265.3 572.5,267.4 572.7,259.8 572.9,229.2 573.1,282.6 573.3,207.1 573.5,276.1 573.7,242.2 573.9,248.6 574.1,242.6 574.3,244.8 574.5,249.4 574.7,245.1 574.9,231.1 575.1,265.6 575.3,242.1 575.5,277.0 575.7,251.2 575.9,242.3 576.1,263.7 576.3,272.0 576.5,241.7 576.7,253.1 576.9,283.2 577.1,240.7 577.3,244.3 577.5,261.8 577.7,236.8 577.9,214.2 578.1,227.6 578.3,262.1 578.5,266.0 578.7,264.0 578.9,260.6 579.1,232.1 579.3,265.2 579.5,274.5 579.7,241.4 579.9,269.3 580.1,245.8 580.3,255.9 580.5,260.3 580.7,227.6 580.9,280.2 581.1,239.8 581.3,253.2 581.5,246.8 581.7,262.3 581.9,260.9 582.1,251.8 582.3,275.4 582.5,255.5 582.7,242.6 582.9,198.0 583.1,241.2 583.3,239.4 583.5,227.0 583.7,224.5 583.9,250.0 584.1,257.8 584.3,274.6 584.5,264.2 584.7,233.6 584.9,253.7 585.1,228.3 585.3,268.3 585.5,265.6 585.7,251.5 585.9,263.7 586.1,264.4 586.3,259.8 586.5,295.4 586.7,328.9 586.9,289.8 587.1,292.4 587.3,274.8 587.5,263.0 587.7,304.7 587.9,257.7 588.1,269.6 588.3,258.0 588.5,267.1 588.7,254.2 588.9,264.9 589.1,231.1 589.3,247.9 589.5,270.3 589.7,228.1 589.9,234.6 590.1,271.0 590.3,254.7 590.5,267.5 590.7,208.7 590.9,249.3 591.1,223.6 591.3,221.3 591.5,252.3 591.7,267.2 591.9,223.5 592.1,232.9 592.3,242.9 592.5,253.6 592.7,234.0 592.9,296.7 593.1,266.7 593.3,251.0 593.5,250.9 593.7,302.4 593.9,301.9 594.1,254.2 594.3,268.7 594.5,283.2 594.7,237.9 594.9,247.5 595.1,280.6 595.3,243.0 595.5,245.7 595.7,228.7 595.9,238.6 596.1,261.8 596.3,234.9 596.5,225.8 596.7,237.1 596.9,279.2 597.1,256.2 597.3,242.2 597.5,255.1 597.7,260.5 597.9,256.1 598.1,223.8 598.3,262.6 598.5,254.6 598.7,273.3 598.9,234.7 599.1,275.9 599.3,247.5 599.5,226.4 599.7,278.4 599.9,243.8 600.1,257.7 600.3,248.8 600.5,270.9 600.7,271.4 600.9,272.3 601.1,263.7 601.3,223.1 601.5,224.1 601.7,260.3 601.9,241.8 602.1,277.2 602.3,266.1 602.5,242.3 602.7,251.8 602.9,252.7 603.1,258.0 603.3,269.6 603.5,285.6 603.7,299.4 603.9,257.5 604.1,262.8 604.3,298.0 604.5,284.2 604.7,270.0 604.9,223.0 605.1,244.6 605.3,263.7 605.5,249.4 605.7,294.4 605.9,260.7 606.1,264.7 606.3,239.4 606.5,243.4 606.7,253.1 606.9,255.5 607.1,266.1 607.3,279.2 607.5,277.2 607.7,293.2 607.9,253.2 608.1,287.1 608.3,284.3 608.5,309.0 608.7,277.7 608.9,289.3 609.1,269.7 609.3,291.2 609.5,290.5 609.7,272.5 609.9,274.8 610.1,282.0 610.3,293.7 610.5,264.3 610.7,299.4 610.9,278.5 611.1,318.7 611.3,310.2 611.5,276.4 611.7,272.6 611.9,326.1 612.1,295.0 612.3,294.4 612.5,278.5 612.7,287.7 612.9,306.1 613.1,303.5 613.3,278.1 613.5,315.4 613.7,296.8 613.9,258.0 614.1,308.5 614.3,288.1 614.5,305.3 614.7,280.8 614.9,296.1 615.1,258.2 615.3,291.0 615.5,254.8 615.7,281.5 615.9,232.4 616.1,273.5 616.3,285.5 616.5,281.5 616.7,293.0 616.9,251.7 617.1,297.7 617.3,297.6 617.5,248.0 617.7,255.7 617.9,261.1 618.1,272.2 618.3,276.7 618.5,230.7 618.7,288.1 618.9,271.0 619.1,262.1 619.3,298.5 619.5,276.5 619.7,301.7 619.9,292.4 620.1,277.9 620.3,305.0 620.5,299.1 620.7,267.1 620.9,256.6 621.1,277.1 621.3,297.7 621.5,283.9 621.7,320.8 621.9,294.0 622.1,292.8 622.3,297.0 622.5,275.2 622.7,286.3 622.9,277.6 623.1,247.0 623.3,254.9 623.5,297.6 623.7,274.8 623.9,278.5 624.1,252.5 624.3,265.5 624.5,286.8 624.7,273.4 624.9,262.4 625.1,296.6 625.3,266.5 625.5,263.5 625.7,291.1 625.9,239.8 626.1,281.7 626.3,252.8 626.5,259.9 626.7,261.7 626.9,276.8 627.1,278.3 627.3,282.1 627.5,280.7 627.7,303.4 627.9,311.1 628.1,294.2 628.3,297.7 628.5,280.3 628.7,268.1 628.9,301.9 629.1,295.6 629.3,312.6 629.5,267.8 629.7,348.7 629.9,281.7 630.1,305.1 630.3,322.2 630.5,279.0 630.7,292.7 630.9,264.4 631.1,274.4 631.3,263.2 631.5,295.4 631.7,294.2 631.9,279.3 632.1,303.1 632.3,302.1 632.5,275.5 632.7,268.8 632.9,265.3 633.1,254.3 633.3,291.6 633.5,270.9 633.7,259.7 633.9,262.4 634.1,278.8 634.3,265.0 634.5,280.7 634.7,276.3 634.9,302.7 635.1,300.3 635.3,256.3 635.5,279.6 635.7,296.7 635.9,277.9 636.1,303.9 636.3,297.9 636.5,304.9 636.7,295.2 636.9,302.3 637.1,307.1 637.3,273.4 637.5,285.8 637.7,286.2 637.9,335.4 638.1,312.4 638.3,315.3 638.5,312.1 638.7,300.0 638.9,297.3 639.1,324.3 639.3,300.7 639.5,334.4 639.7,307.1 639.9,301.0 640.1,293.6 640.3,293.0 640.5,292.5 640.7,315.6 640.9,328.5 641.1,263.3 641.3,284.8 641.5,289.5 641.7,260.5 641.9,264.7 642.1,265.3 642.3,231.3 642.5,285.2 642.7,273.5 642.9,273.7 643.1,276.3 643.3,278.6 643.5,317.4 643.7,281.4 643.9,295.9 644.1,274.6 644.3,292.9 644.5,284.7 644.7,291.8 644.9,281.8 645.1,288.2 645.3,312.9 645.5,320.4 645.7,317.4 645.9,297.8 646.1,315.1 646.3,264.9 646.5,326.2 646.7,307.6 646.9,313.1 647.1,329.0 647.3,299.9 647.5,323.4 647.7,295.9 647.9,309.7 648.1,289.7 648.3,299.7 648.5,318.9 648.7,281.0 648.9,270.8 649.1,284.9 649.3,296.8 649.5,339.7 649.7,281.7 649.9,255.2 650.1,280.0 650.3,264.2 650.5,283.9 650.7,295.7 650.9,279.4 651.1,285.4 651.3,265.1 651.5,300.3 651.7,282.9 651.9,314.9 652.1,314.7 652.3,281.6 652.5,291.0 652.7,301.4 652.9,314.6 653.1,272.5 653.3,299.1 653.5,333.9 653.7,299.7 653.9,305.4 654.1,302.4 654.3,281.1 654.5,319.3 654.7,307.3 654.9,305.2 655.1,314.2 655.3,314.2 655.5,267.2 655.7,309.0 655.9,288.6 656.1,301.1 656.3,274.2 656.5,282.7 656.7,313.6 656.9,296.7 657.1,292.2 657.3,289.3 657.5,300.9 657.7,299.4 657.9,259.8 658.1,284.7 658.3,294.3 658.5,310.2 658.7,320.3 658.9,279.4 659.1,328.4 659.3,295.1 659.5,302.6 659.7,283.0 659.9,281.4 660.1,320.1 660.3,293.4 660.5,297.0 660.7,322.8 660.9,337.6 661.1,284.8 661.3,309.9 661.5,314.9 661.7,347.6 661.9,360.1 662.1,315.5 662.3,325.2 662.5,334.0 662.7,338.1 662.9,306.0 663.1,328.4 663.3,296.5 663.5,256.2 663.7,274.9 663.9,299.3 664.1,306.1 664.3,250.1 664.5,254.1 664.7,281.7 664.9,218.8 665.1,284.8 665.3,289.8 665.5,217.7 665.7,283.2 665.9,266.9 666.1,298.4 666.3,280.2 666.5,273.0 666.7,282.6 666.9,300.0 667.1,290.4 667.3,292.4 667.5,273.0 667.7,311.1 667.9,307.5 668.1,343.4 668.3,312.9 668.5,313.6 668.7,305.4 668.9,330.7 669.1,314.0 669.3,305.4 669.5,345.5 669.7,350.2 669.9,310.6 670.1,300.4 670.3,339.1 670.5,306.7 670.7,373.5 670.9,324.9 671.1,348.9 671.3,312.1 671.5,335.5 671.7,356.5 671.9,345.6 672.1,320.7 672.3,377.6 672.5,345.0 672.7,325.3 672.9,315.4 673.1,316.8 673.3,341.7 673.5,300.1 673.7,307.0 673.9,287.1 674.1,319.6 674.3,290.7 674.5,305.9 674.7,300.3 674.9,280.9 675.1,304.5 675.3,309.5 675.5,273.6 675.7,306.5 675.9,359.6 676.1,383.0 676.3,315.8 676.5,284.1 676.7,318.7 676.9,301.9 677.1,327.6 677.3,314.4 677.5,294.7 677.7,334.8 677.9,311.6 678.1,298.0 678.3,317.8 678.5,298.9 678.7,322.8 678.9,312.1 679.1,305.0 679.3,321.4 679.5,287.2 679.7,326.1 679.9,273.5 680.1,334.9 680.3,308.4 680.5,298.7 680.7,289.1 680.9,309.6 681.1,296.3 681.3,296.2 681.5,318.0 681.7,293.3 681.9,297.5 682.1,309.8 682.3,320.4 682.5,301.6 682.7,310.7 682.9,312.7 683.1,330.4 683.3,347.0 683.5,307.4 683.7,324.6 683.9,329.3 684.1,344.9 684.3,363.3 684.5,337.4 684.7,343.1 684.9,360.8 685.1,318.3 685.3,324.6 685.5,327.2 685.7,330.4 685.9,330.9 686.1,314.6 686.3,351.1 686.5,302.2 686.7,305.8 686.9,323.4 687.1,313.6 687.3,296.1 687.5,300.3 687.7,307.4 687.9,292.8 688.1,305.0 688.3,278.2 688.5,296.3 688.7,264.9 688.9,278.7 689.1,277.3 689.3,322.6 689.5,295.4 689.7,311.9 689.9,291.7 690.1,303.7 690.3,302.6 690.5,291.5 690.7,322.1 690.9,277.5 691.1,317.8 691.3,354.5 691.5,291.1 691.7,304.1 691.9,273.6 692.1,299.0 692.3,238.9 692.5,309.4 692.7,290.4 692.9,266.8 693.1,278.4 693.3,273.4 693.5,296.9 693.7,318.4 693.9,291.1 694.1,284.5 694.3,291.5 694.5,308.6 694.7,262.3 694.9,316.4 695.1,312.8 695.3,260.8 695.5,322.9 695.7,270.0 695.9,294.5 696.1,318.6 696.3,266.0 696.5,261.7 696.7,272.7 696.9,273.2 697.1,290.1 697.3,282.8 697.5,283.2 697.7,284.0 697.9,291.0 698.1,280.1 698.3,303.4 698.5,301.3 698.7,285.4 698.9,338.1 699.1,283.2 699.3,321.3 699.5,295.7 699.7,316.3 699.9,319.8 700.1,327.1 700.3,338.5 700.5,300.6 700.7,369.1 700.9,326.6 701.1,304.8 701.3,295.2 701.5,360.9 701.7,348.5 701.9,318.4 702.1,332.8 702.3,342.1 702.5,322.5 702.7,313.7 702.9,320.7 703.1,335.2 703.3,318.9 703.5,293.9 703.7,343.3 703.9,281.5 704.1,297.7 704.3,332.1 704.5,311.9 704.7,309.3 704.9,303.3 705.1,316.1 705.3,295.2 705.5,258.0 705.7,295.2 705.9,235.8 706.1,253.4 706.3,318.9 706.5,308.6 706.7,282.1 706.9,289.5 707.1,293.4 707.3,311.3 707.5,282.4 707.7,280.4 707.9,284.1 708.1,300.1 708.3,304.1 708.5,294.4 708.7,317.4 708.9,287.2 709.1,306.4 709.3,297.2 709.5,293.7 709.7,334.8 709.9,304.2 710.1,295.3 710.3,315.1 710.5,298.1 710.7,327.9 710.9,332.5 711.1,335.0 711.3,295.3 711.5,311.2 711.7,345.4 711.9,307.1 712.1,331.3 712.3,334.8 712.5,282.0 712.7,327.7 712.9,320.6 713.1,322.5 713.3,336.4 713.5,313.8 713.7,308.2 713.9,321.0 714.1,305.9 714.3,322.8 714.5,279.6 714.7,346.7 714.9,306.4 715.1,325.9 715.3,322.4 715.5,317.5 715.7,317.0 715.9,315.8 716.1,285.1 716.3,303.1 716.5,332.3 716.7,273.1 716.9,287.6 717.1,342.2 717.3,323.7 717.5,328.4 717.7,300.1 717.9,303.4 718.1,312.7 718.3,309.1 718.5,297.2 718.7,272.4 718.9,286.2 719.1,272.6 719.3,329.1 719.5,294.9 719.7,301.4 719.9,311.9 720.1,309.1 720.3,319.5 720.5,299.4 720.7,284.9 720.9,345.4 721.1,303.4 721.3,309.1 721.5,304.8 721.7,310.6 721.9,321.4 722.1,335.6 722.3,302.8 722.5,325.6 722.7,295.2 722.9,340.3 723.1,296.7 723.3,319.3 723.5,329.3 723.7,289.2 723.9,313.2 724.1,312.4 724.3,294.4 724.5,303.6 724.7,324.1 724.9,309.4 725.1,297.6 725.3,299.9 725.5,310.0 725.7,323.3 725.9,314.5 726.1,314.1 726.3,329.6 726.5,275.2 726.7,276.4 726.9,261.3 727.1,314.7 727.3,260.8 727.5,303.1 727.7,318.1 727.9,279.8 728.1,293.8 728.3,300.6 728.5,318.0 728.7,276.9 728.9,309.2 729.1,315.5 729.3,305.8 729.5,309.6 729.7,327.6 729.9,310.3 730.1,305.3 730.3,300.0 730.5,318.5 730.7,303.2 730.9,322.7 731.1,315.6 731.3,337.9 731.5,305.6 731.7,322.7 731.9,329.9 732.1,331.8 732.3,344.8 732.5,332.7 732.7,343.3 732.9,363.7 733.1,359.1 733.3,311.0 733.5,303.7 733.7,339.2 733.9,318.1 734.1,328.6 734.3,319.4 734.5,343.2 734.7,340.1 734.9,296.2 735.1,322.2 735.3,299.3 735.5,285.5 735.7,318.0 735.9,302.5 736.1,311.0 736.3,345.2 736.5,324.8 736.7,319.8 736.9,292.8 737.1,279.4 737.3,323.0 737.5,299.3 737.7,306.4 737.9,299.8 738.1,308.4 738.3,348.3 738.5,300.6 738.7,302.4 738.9,313.4 739.1,314.5 739.3,288.8 739.5,279.9 739.7,299.8 739.9,306.6 740.1,296.0 740.3,291.8 740.5,293.2 740.7,303.4 740.9,308.3 741.1,282.6 741.3,300.4 741.5,314.6 741.7,305.2 741.9,281.4 742.1,298.3 742.3,303.2 742.5,315.3 742.7,271.9 742.9,310.7 743.1,291.0 743.3,302.0 743.5,310.6 743.7,266.9 743.9,283.6 744.1,296.9 744.3,312.8 744.5,293.6 744.7,280.9 744.9,295.7 745.1,316.5 745.3,332.5 745.5,303.7 745.7,307.5 745.9,310.9 746.1,312.6 746.3,300.1 746.5,310.1 746.7,321.5 746.9,319.7 747.1,317.7 747.3,297.5 747.5,303.4 747.7,286.9 747.9,330.9 748.1,338.5 748.3,318.9 748.5,366.0 748.7,305.4 748.9,303.9 749.1,286.2 749.3,312.8 749.5,299.8 749.7,308.8 749.9,316.2 750.1,304.4 750.3,290.0 750.5,309.8 750.7,310.4 750.9,313.2 751.1,327.0 751.3,312.2 751.5,311.7 751.7,344.9 751.9,333.9 752.1,315.1 752.3,283.8 752.5,310.6 752.7,325.2 752.9,332.9 753.1,398.4 753.3,310.5 753.5,316.9 753.7,305.8 753.9,313.3 754.1,304.3 754.3,291.8 754.5,325.8 754.7,308.0 754.9,325.8 755.1,293.5 755.3,304.7 755.5,310.8 755.7,265.4 755.9,275.0 756.1,310.6 756.3,299.7 756.5,266.2 756.7,285.5 756.9,280.9 757.1,293.2 757.3,328.8 757.5,294.4 757.7,340.9 757.9,302.8 758.1,295.9 758.3,337.1 758.5,328.1 758.7,333.8 758.9,343.1 759.1,327.9 759.3,331.0 759.5,278.8 759.7,293.3 759.9,315.0 760.1,311.3 760.3,320.1 760.5,300.1 760.7,407.0 760.9,342.3 761.1,317.5 761.3,323.5 761.5,317.9 761.7,325.8 761.9,318.0 762.1,301.0 762.3,313.6 762.5,312.4 762.7,283.5 762.9,312.9 763.1,308.6 763.3,311.5 763.5,296.2 763.7,312.0 763.9,311.9 764.1,287.5 764.3,303.6 764.5,309.1 764.7,305.8 764.9,275.2 765.1,270.1 765.3,286.7 765.5,268.1 765.7,329.0 765.9,272.2 766.1,274.4 766.3,300.1 766.5,282.5 766.7,251.7 766.9,292.3 767.1,279.0 767.3,289.4 767.5,271.3 767.7,285.3 767.9,299.1 768.1,301.6 768.3,285.2 768.5,290.9 768.7,289.1 768.9,307.6 769.1,304.1 769.3,285.3 769.5,318.9 769.7,297.7 769.9,318.3 770.1,296.7 770.3,319.6 770.5,313.7 770.7,317.2 770.9,326.1 771.1,328.1 771.3,324.3 771.5,323.9 771.7,298.2 771.9,317.1 772.1,278.5 772.3,275.3 772.5,307.1 772.7,308.2 772.9,337.3 773.1,320.9 773.3,328.5 773.5,303.9 773.7,314.5 773.9,325.0 774.1,313.5 774.3,309.7 774.5,304.0 774.7,286.5 774.9,286.0 775.1,274.3 775.3,304.6 775.5,291.5 775.7,284.8 775.9,301.7 776.1,282.6 776.3,308.4 776.5,321.5 776.7,295.3 776.9,275.1 777.1,261.8 777.3,322.4 777.5,296.3 777.7,270.2 777.9,311.0 778.1,265.2 778.3,287.4 778.5,292.7 778.7,294.1 778.9,285.3 779.1,349.6 779.3,304.9 779.5,321.3 779.7,316.7 779.9,289.5 780.1,309.0 780.3,322.1 780.5,336.3 780.7,310.2 780.9,329.3 781.1,309.6 781.3,331.4 781.5,278.3 781.7,330.6 781.9,309.5 782.1,309.2 782.3,267.7 782.5,295.3 782.7,323.1 782.9,350.1 783.1,294.6 783.3,293.2 783.5,312.6 783.7,308.8 783.9,292.2 784.1,296.3 784.3,290.4 784.5,306.0 784.7,307.9 784.9,324.3 785.1,309.9 785.3,306.7 785.5,299.2 785.7,313.7 785.9,280.8 786.1,335.5 786.3,303.6 786.5,325.9 786.7,289.6 786.9,323.5 787.1,312.9 787.3,303.6 787.5,295.2 787.7,290.3 787.9,335.9 788.1,325.9 788.3,306.0 788.5,306.2 788.7,289.2 788.9,268.2 789.1,266.5 789.3,284.9 789.5,290.7 789.7,271.9 789.9,302.8 790.1,306.4 790.3,292.1 790.5,259.4 790.7,287.0 790.9,291.0 791.1,270.2 791.3,254.8 791.5,327.5 791.7,316.5 791.9,289.6 792.1,326.7 792.3,339.7 792.5,311.2 792.7,307.7 792.9,320.3 793.1,331.9 793.3,308.5 793.5,304.5 793.7,318.7 793.9,259.4 794.1,311.7 794.3,304.6 794.5,312.9 794.7,308.7 794.9,315.5 795.1,309.8 795.3,309.3 795.5,304.8 795.7,313.8 795.9,295.9 796.1,319.4 796.3,272.8 796.5,306.1 796.7,311.3 796.9,280.6 797.1,295.1 797.3,325.5 797.5,301.0 797.7,272.6 797.9,252.3 798.1,310.2 798.3,307.9 798.5,317.6 798.7,343.8 798.9,307.3 799.1,309.0 799.3,294.0 799.5,303.9 799.7,305.2 799.9,319.8 800.1,316.3 800.3,294.3 800.5,299.5 800.7,332.4 800.9,292.5 801.1,322.7 801.3,339.6 801.5,323.4 801.7,318.1 801.9,337.7 802.1,320.1 802.3,312.8 802.5,308.3 802.7,330.7 802.9,320.8 803.1,333.7 803.3,298.9 803.5,293.0 803.7,295.0 803.9,305.5 804.1,286.8 804.3,312.2 804.5,299.8 804.7,275.8 804.9,239.7 805.1,257.3 805.3,313.9 805.5,287.7 805.7,290.6 805.9,279.6 806.1,293.1 806.3,251.4 806.5,249.2 806.7,256.2 806.9,288.9 807.1,299.1 807.3,296.8 807.5,287.9 807.7,268.7 807.9,307.1 808.1,289.1 808.3,296.2 808.5,295.8 808.7,288.4 808.9,286.0 809.1,289.3 809.3,276.3 809.5,302.5 809.7,294.7 809.9,315.7 810.1,266.5 810.3,318.6 810.5,296.3 810.7,294.5 810.9,281.9 811.1,280.6 811.3,268.0 811.5,309.2 811.7,289.4 811.9,306.7 812.1,308.7 812.3,286.2 812.5,291.4 812.7,289.1 812.9,313.8 813.1,297.8 813.3,298.0 813.5,308.8 813.7,297.3 813.9,334.9 814.1,284.0 814.3,322.4 814.5,323.6 814.7,278.6 814.9,312.4 815.1,300.1 815.3,309.5 815.5,272.0 815.7,296.2 815.9,273.5 816.1,282.5 816.3,309.5 816.5,279.2 816.7,239.3 816.9,253.3 817.1,257.8 817.3,295.2 817.5,264.5 817.7,251.5 817.9,298.6 818.1,284.3 818.3,287.2 818.5,270.2 818.7,337.1 818.9,288.5 819.1,258.5 819.3,276.9 819.5,284.7 819.7,298.8 819.9,316.6 820.1,291.9 820.3,293.3 820.5,342.0 820.7,304.0 820.9,294.1 821.1,301.2 821.3,275.8 821.5,303.9 821.7,308.4 821.9,279.3 822.1,304.0 822.3,279.2 822.5,287.3 822.7,267.5 822.9,267.5 823.1,254.8 823.3,289.0 823.5,274.9 823.7,277.1 823.9,242.7 824.1,263.9 824.3,276.4 824.5,298.5 824.7,298.9 824.9,286.4 825.1,305.8 825.3,333.3 825.5,305.9 825.7,376.1 825.9,315.0 826.1,333.6 826.3,302.5 826.5,333.2 826.7,292.9 826.9,318.4 827.1,308.1 827.3,279.1 827.5,265.9 827.7,331.7 827.9,319.8 828.1,332.4 828.3,313.5 828.5,256.9 828.7,311.3 828.9,295.1 829.1,295.4 829.3,291.9 829.5,282.9 829.7,274.5 829.9,308.8 830.1,292.2 830.3,271.2 830.5,273.5 830.7,296.8 830.9,284.6 831.1,280.3 831.3,254.5 831.5,268.1 831.7,257.0 831.9,243.2 832.1,293.4 832.3,274.6 832.5,276.2 832.7,268.0 832.9,299.9 833.1,324.9 833.3,302.3 833.5,311.9 833.7,274.1 833.9,299.7 834.1,302.0 834.3,325.7 834.5,302.4 834.7,288.7 834.9,305.1 835.1,298.5 835.3,331.6 835.5,318.2 835.7,313.6 835.9,309.3 836.1,318.1 836.3,293.5 836.5,285.5 836.7,267.7 836.9,321.7 837.1,307.4 837.3,308.6 837.5,295.0 837.7,322.6 837.9,274.6 838.1,332.9 838.3,273.8 838.5,280.0 838.7,265.6 838.9,290.1 839.1,282.1 839.3,294.6 839.5,277.4 839.7,265.4 839.9,301.7 840.1,317.3 840.3,309.3 840.5,298.1 840.7,308.3 840.9,274.3 841.1,299.7 841.3,326.6 841.5,314.6 841.7,222.0 841.9,323.9 842.1,307.2 842.3,320.4 842.5,281.9 842.7,295.2 842.9,308.2 843.1,304.4 843.3,306.4 843.5,294.7 843.7,289.4 843.9,301.5 844.1,307.5 844.3,262.7 844.5,281.2 844.7,281.8 844.9,288.8 845.1,303.5 845.3,262.5 845.5,295.1 845.7,257.4 845.9,274.3 846.1,279.2 846.3,280.9 846.5,280.1 846.7,281.6 846.9,287.0 847.1,290.1 847.3,263.6 847.5,247.1 847.7,289.8 847.9,308.1 848.1,318.3 848.3,350.8 848.5,302.7 848.7,286.7 848.9,301.7 849.1,311.7 849.3,303.8 849.5,283.0 849.7,300.4 849.9,302.6 850.1,279.6 850.3,284.1 850.5,327.1 850.7,268.2 850.9,311.2 851.1,303.2 851.3,333.5 851.5,320.5 851.7,294.2 851.9,331.4 852.1,301.2 852.3,345.8 852.5,338.4 852.7,305.4 852.9,317.9 853.1,305.5 853.3,282.6 853.5,313.5 853.7,300.1 853.9,305.3 854.1,306.1 854.3,308.7 854.5,298.7 854.7,274.6 854.9,272.7 855.1,274.2 855.3,263.3 855.5,256.9 855.7,298.0 855.9,275.7 856.1,301.3 856.3,255.0 856.5,269.4 856.7,263.9 856.9,268.6 857.1,274.3 857.3,280.8 857.5,279.7 857.7,322.8 857.9,307.3 858.1,284.8 858.3,290.5 858.5,313.9 858.7,311.4 858.9,280.8 859.1,317.8 859.3,276.5 859.5,291.7 859.7,329.2 859.9,252.2 860.1,293.0 860.3,313.3 860.5,291.3 860.7,277.1 860.9,274.3 861.1,252.5 861.3,264.6 861.5,289.5 861.7,277.0 861.9,287.6 862.1,286.1 862.3,294.9 862.5,261.6 862.7,287.1 862.9,287.4 863.1,289.4 863.3,283.5 863.5,262.3 863.7,312.9 863.9,317.0 864.1,345.0 864.3,318.5 864.5,335.5 864.7,319.1 864.9,301.8 865.1,317.2 865.3,289.1 865.5,311.6 865.7,304.4 865.9,285.9 866.1,323.1 866.3,319.8 866.5,306.3 866.7,311.2 866.9,322.9 867.1,289.8 867.3,264.7 867.5,269.5 867.7,294.9 867.9,283.9 868.1,252.0 868.3,298.3 868.5,278.8 868.7,303.3 868.9,294.1 869.1,267.8 869.3,277.7 869.5,265.0 869.7,263.9 869.9,273.7 870.1,298.4 870.3,308.1 870.5,272.4 870.7,304.0 870.9,296.0 871.1,294.4 871.3,319.4 871.5,295.5 871.7,325.8 871.9,291.0 872.1,286.7 872.3,316.8 872.5,278.2 872.7,284.2 872.9,301.8 873.1,303.2 873.3,296.5 873.5,266.9 873.7,276.5 873.9,306.8 874.1,306.6 874.3,279.2 874.5,300.9 874.7,298.5 874.9,310.8 875.1,277.7 875.3,312.5 875.5,278.9 875.7,306.9 875.9,298.9 876.1,263.0 876.3,274.3 876.5,283.8 876.7,295.4 876.9,253.7 877.1,268.9 877.3,290.7 877.5,290.4 877.7,267.0 877.9,273.3 878.1,298.9 878.3,275.5 878.5,298.8 878.7,313.9 878.9,298.8 879.1,252.7 879.3,320.0 879.5,321.0 879.7,326.7 879.9,316.6 880.1,270.7 880.3,322.5 880.5,301.8 880.7,312.5 880.9,293.4 881.1,292.7 881.3,292.7 881.5,325.8 881.7,300.8 881.9,291.5 882.1,270.9 882.3,300.8 882.5,292.3 882.7,292.5 882.9,306.6 883.1,302.4 883.3,288.9 883.5,291.3 883.7,286.7 883.9,295.6 884.1,293.8 884.3,282.9 884.5,263.7 884.7,293.4 884.9,293.4 885.1,258.8 885.3,285.1 885.5,272.1 885.7,240.2 885.9,278.6 886.1,296.2 886.3,268.5 886.5,271.4 886.7,305.2 886.9,271.2 887.1,276.8 887.3,292.6 887.5,312.2 887.7,314.2 887.9,296.0 888.1,301.8 888.3,310.8 888.5,302.9 888.7,296.5 888.9,291.6 889.1,322.0 889.3,303.8 889.5,356.2 889.7,316.5 889.9,291.6 890.1,302.9 890.3,306.3 890.5,305.9 890.7,305.6 890.9,304.3 891.1,291.5 891.3,301.8 891.5,326.5 891.7,278.4 891.9,277.8 892.1,211.0 892.3,301.3 892.5,291.6 892.7,296.6 892.9,273.5 893.1,269.7 893.3,294.9 893.5,283.2 893.7,301.0 893.9,301.3 894.1,241.8 894.3,288.0 894.5,262.6 894.7,238.3 894.9,280.7 895.1,271.2 895.3,269.2 895.5,253.1 895.7,259.5 895.9,275.8 896.1,254.9 896.3,279.1 896.5,282.5 896.7,276.9 896.9,286.0 897.1,280.1 897.3,261.8 897.5,265.5 897.7,284.3 897.9,297.7 898.1,283.6 898.3,271.0 898.5,283.2 898.7,248.3 898.9,261.1 899.1,271.1 899.3,277.5 899.5,273.2 899.7,274.5 899.9,238.7 900.1,269.0 900.3,284.0 900.5,249.3 900.7,259.7 900.9,274.1 901.1,304.2 901.3,290.6 901.5,307.6 901.7,305.3 901.9,274.6 902.1,280.0 902.3,261.7 902.5,302.1 902.7,296.2 902.9,294.2 903.1,296.1 903.3,293.8 903.5,290.5 903.7,293.8 903.9,312.6 904.1,278.0 904.3,273.3 904.5,290.9 904.7,310.6 904.9,295.0 905.1,288.1 905.3,319.6 905.5,292.3 905.7,257.0 905.9,272.6 906.1,254.7 906.3,288.0 906.5,284.1 906.7,300.6 906.9,331.6 907.1,286.6 907.3,298.9 907.5,293.5 907.7,252.7 907.9,290.2 908.1,292.0 908.3,312.4"/>

  <!-- input signal -->
  <rect x="133.4" y="715" width="39" height="10.2" fill="#d95319"/>
  <rect x="172.2" y="62.6" width="736.2" height="10.7" fill="#d95319"/>

  <!-- Ff / F95 dashed -->
  <g stroke="#ffc000" stroke-width="4.8" stroke-dasharray="18.3 13.17" fill="none">
    <line x1="135" y1="305.4" x2="908.3" y2="305.4"/>
    <line x1="135" y1="330.4" x2="908.3" y2="330.4"/>
  </g>

  <!-- response time dash-dot lines -->
  <g stroke="#000000" stroke-width="4.6" stroke-dasharray="18 13.4 4.6 13.4" fill="none">
    <line x1="174.9" y1="73.8" x2="174.9" y2="727"/>
    <line x1="196.9" y1="73.8" x2="196.9" y2="727"/>
  </g>

  <!-- arrows -->
  <g fill="#000000" stroke="none">
    <rect x="144.9" y="425.8" width="16" height="4.6"/>
    <polygon points="159.6,421.2 172.6,428.1 159.6,435"/>
    <rect x="210" y="425.8" width="15.2" height="4.6"/>
    <polygon points="211.2,421.2 199.2,428.1 211.2,435"/>
  </g>

  <!-- left tick labels -->
  <g class="tick blue" text-anchor="end">
    <text x="119.6" y="76.5">8</text>
    <text x="119.6" y="170.8">7</text>
    <text x="119.6" y="265.3">6</text>
    <text x="119.6" y="359.8">5</text>
    <text x="119.6" y="454.2">4</text>
    <text x="119.6" y="548.7">3</text>
    <text x="119.6" y="643.1">2</text>
    <text x="119.6" y="737.6">1</text>
  </g>
  <!-- right tick labels -->
  <g class="tick org" text-anchor="start" letter-spacing="-0.6">
    <text x="918.5" y="78">1</text>
    <text x="918.5" y="209.8">0.8</text>
    <text x="918.5" y="341.8">0.6</text>
    <text x="918.5" y="474">0.4</text>
    <text x="918.5" y="606.3">0.2</text>
    <text x="918.5" y="738.5">0</text>
  </g>
  <!-- x tick labels -->
  <g class="tick gray" text-anchor="middle" letter-spacing="-0.5">
    <text x="133.4" y="773.9">9</text>
    <text x="326" y="773.9">9.5</text>
    <text x="521" y="773.9">10</text>
    <text x="714.5" y="773.9">10.5</text>
    <text x="907" y="773.9">11</text>
  </g>

  <!-- axis labels -->
  <text class="lab gray" x="519.5" y="825" text-anchor="middle">Time (s)</text>
  <text class="lab blue" transform="translate(68,393.3) rotate(-90)" text-anchor="middle" letter-spacing="-0.25">Damping Force (N)</text>
  <text class="lab org" transform="translate(1017,394.5) rotate(-90)" text-anchor="middle" letter-spacing="-0.2">Input Signal (V)</text>

  <!-- annotations -->
  <text class="ann blk" x="246.6" y="441" letter-spacing="0.22">Response Time</text>
  <text class="blk" x="300.3" y="490.6" font-size="39">48</text>
  <text class="blk" x="349" y="490.6" font-size="40.6" font-style="italic" letter-spacing="1">ms</text>

  <text class="yel" x="424.3" y="283.6" font-size="36.3" font-style="italic">F<tspan dy="8.5" dx="-4.5" font-size="28">f</tspan></text>
  <text class="yel" x="419.3" y="364.2" font-size="36.3" font-style="italic">F<tspan dy="9.4" dx="-4.6" font-size="27" font-style="normal">Δ95%</tspan></text>

  <!-- legend -->
  <line x1="563" y1="537.8" x2="637" y2="537.8" stroke="#0072bd" stroke-width="4.6"/>
  <line x1="563" y1="601.1" x2="637" y2="601.1" stroke="#d95319" stroke-width="4.6"/>
  <text class="ann blk" x="657.8" y="542.5" letter-spacing="0.23">Damping Force</text>
  <text class="ann blk" x="658.2" y="614.2" letter-spacing="-0.25">Input Signal</text>
</svg>
</body>
</html>
